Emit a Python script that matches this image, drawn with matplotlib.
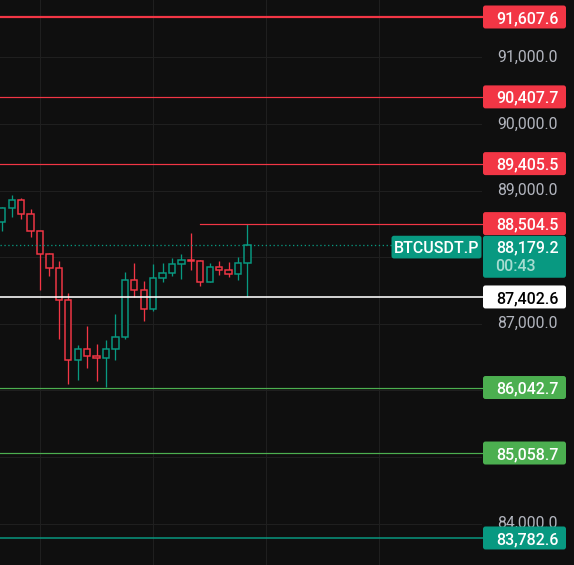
import matplotlib
matplotlib.use("Agg")
import matplotlib.pyplot as plt
from matplotlib.patches import Rectangle, FancyBboxPatch

# ---------------- data ----------------
opens  = [88524, 88734, 88854, 88644, 88389, 88043, 87833, 87352, 86451, 86616,
          86511, 86481, 86616, 86797, 87653, 87503, 87217, 87683, 87758, 87893,
          87953, 87938, 87623, 87848, 87803, 87743, 87908]
highs  = [88758, 88934, 88884, 88719, 88395, 88058, 87938, 87458, 86676, 86966,
          86691, 86752, 87142, 87773, 87908, 87642, 87898, 87913, 87988, 88048,
          88363, 87953, 87913, 87943, 87928, 88003, 88504.5]
lows   = [88398, 88608, 88578, 88308, 87512, 87722, 86776, 86100, 86160, 86340,
          86145, 86043, 86460, 86776, 87397, 87037, 87187, 87623, 87713, 87668,
          87803, 87563, 87623, 87728, 87698, 87653, 87402.6]
closes = [88734, 88854, 88644, 88389, 88043, 87833, 87352, 86451, 86616, 86511,
          86481, 86616, 86797, 87653, 87503, 87217, 87683, 87758, 87893, 87953,
          87938, 87623, 87848, 87803, 87743, 87908, 88179.2]

level_prices = [91607.6, 90407.7, 89405.5, 88504.5, 87402.6, 86042.7, 85058.7, 83782.6]
level_labels = ["91,607.6", "90,407.7", "89,405.5", "88,504.5", "87,402.6",
                "86,042.7", "85,058.7", "83,782.6"]
level_kinds  = ["red", "red", "red", "red", "white", "green", "green", "teal"]

tick_prices = [84000, 85000, 86000, 87000, 88000, 89000, 90000, 91000]
tick_labels = ["84,000.0", "85,000.0", "86,000.0", "87,000.0", "88,000.0",
               "89,000.0", "90,000.0", "91,000.0"]

symbol = "BTCUSDT.P"
last_price = 88179.2
last_label = "88,179.2"
countdown = "00:43"

# ---------------- style ----------------
W, H = 574, 565
BG = "#0f0f0f"
GRID = "#1f1f1f"
UP = "#089981"
DOWN = "#f23645"
RED = "#f23645"
GREEN = "#4caf50"
TEAL = "#089981"
TICK = "#b2b5be"
FONT = ["Roboto", "DejaVu Sans"]
PX = 0.72  # points per pixel at dpi 100

# price <-> pixel scale (price axis)
px_per_1000 = 66.58
y_px_91000 = 57.45
top_price = 91000 + y_px_91000 / px_per_1000 * 1000
bot_price = 91000 - (H - y_px_91000) / px_per_1000 * 1000
ppp = 1000 / px_per_1000  # price per pixel

fig = plt.figure(figsize=(W / 100, H / 100), dpi=100)
fig.patch.set_facecolor(BG)
ax = fig.add_axes([0, 0, 1, 1])
ax.set_facecolor(BG)
ax.set_xlim(0, W)
ax.set_ylim(bot_price, top_price)
ax.axis("off")

plot_right = 481
x0, step = 2.3, 9.43
body_w = 6.3

# grid
for p in tick_prices:
    ax.plot([0, plot_right], [p, p], color=GRID, lw=1 * PX, zorder=1)
for gx in [40.3, 153.3, 266.3, 379.3]:
    ax.plot([gx, gx], [bot_price, top_price], color=GRID, lw=1 * PX, zorder=1)


# tick labels (those hidden behind price labels are not drawn, as in the reference)
def covered(p):
    for lp in level_prices:
        if abs(lp - p) < 9 * ppp:
            return True
    if last_price - 32 * ppp < p < last_price + 9 * ppp:
        return True
    return False


for p, t in zip(tick_prices, tick_labels):
    if covered(p):
        continue
    ax.text(558, p, t, color=TICK, fontsize=11.3, family=FONT,
            ha="right", va="center", zorder=3)

# candles
for i, (o, h, l, c) in enumerate(zip(opens, highs, lows, closes)):
    x = x0 + step * i
    col = UP if c >= o else DOWN
    ax.plot([x, x], [l, h], color=col, lw=1.3 * PX, zorder=4, solid_capstyle="butt")
    lo, hi = min(o, c), max(o, c)
    hgt = max(hi - lo, 1.2 * ppp)
    ax.add_patch(Rectangle((x - body_w / 2, lo), body_w, hgt, facecolor=BG,
                           edgecolor=col, lw=1.5 * PX, zorder=5))

# level lines
line_cols = {"red": RED, "white": "#ffffff", "green": GREEN, "teal": TEAL}
line_w = {"red": 1.2, "white": 1.6, "green": 1.2, "teal": 1.5}
for p, k, lab in zip(level_prices, level_kinds, level_labels):
    xs = 199.5 if lab == "88,504.5" else 0
    lw = 2.2 if lab == "91,607.6" else line_w[k]
    ax.plot([xs, plot_right + 2], [p, p], color=line_cols[k], lw=lw * PX, zorder=6)

# last price dotted line
ax.plot([0, 392], [last_price, last_price], color=TEAL, lw=1.3 * PX,
        linestyle=(0, (1, 2)), zorder=6)


def box(xl, xr, ytop_px_off, ybot_px_off, center_price, color):
    y_bot = center_price - ybot_px_off * ppp
    hgt = (ybot_px_off + ytop_px_off) * ppp
    ax.add_patch(FancyBboxPatch((xl, y_bot), xr - xl, hgt,
                                boxstyle="round,pad=0,rounding_size=2.5",
                                mutation_aspect=ppp, facecolor=color,
                                edgecolor="none", zorder=8))


# level labels
box_cols = {"red": RED, "white": "#ffffff", "green": GREEN, "teal": TEAL}
for p, k, lab in zip(level_prices, level_kinds, level_labels):
    box(483, 566, 11.5, 11.5, p, box_cols[k])
    ax.text(559, p, lab, color="#000000" if k == "white" else "#ffffff",
            fontsize=11.5, family=FONT, fontweight="medium",
            ha="right", va="center_baseline", zorder=9)

# current price label
box(483, 566, 9.5, 32.5, last_price, TEAL)
ax.text(559, last_price - 1.5 * ppp, last_label, color="#ffffff", fontsize=11.5,
        family=FONT, fontweight="medium", ha="right", va="center_baseline", zorder=9)
ax.text(495, last_price - 19.5 * ppp, countdown, color="#a6dcd1", fontsize=11.5,
        family=FONT, fontweight="medium", ha="left", va="center_baseline", zorder=9)

# symbol label
box(391.5, 481.5, 9.5, 13.2, last_price, TEAL)
ax.text(436.5, last_price - 1.8 * ppp, symbol, color="#ffffff", fontsize=11.5,
        family=FONT, fontweight="medium", ha="center", va="center_baseline", zorder=9)

fig.savefig("out.png", dpi=100, facecolor=BG)
